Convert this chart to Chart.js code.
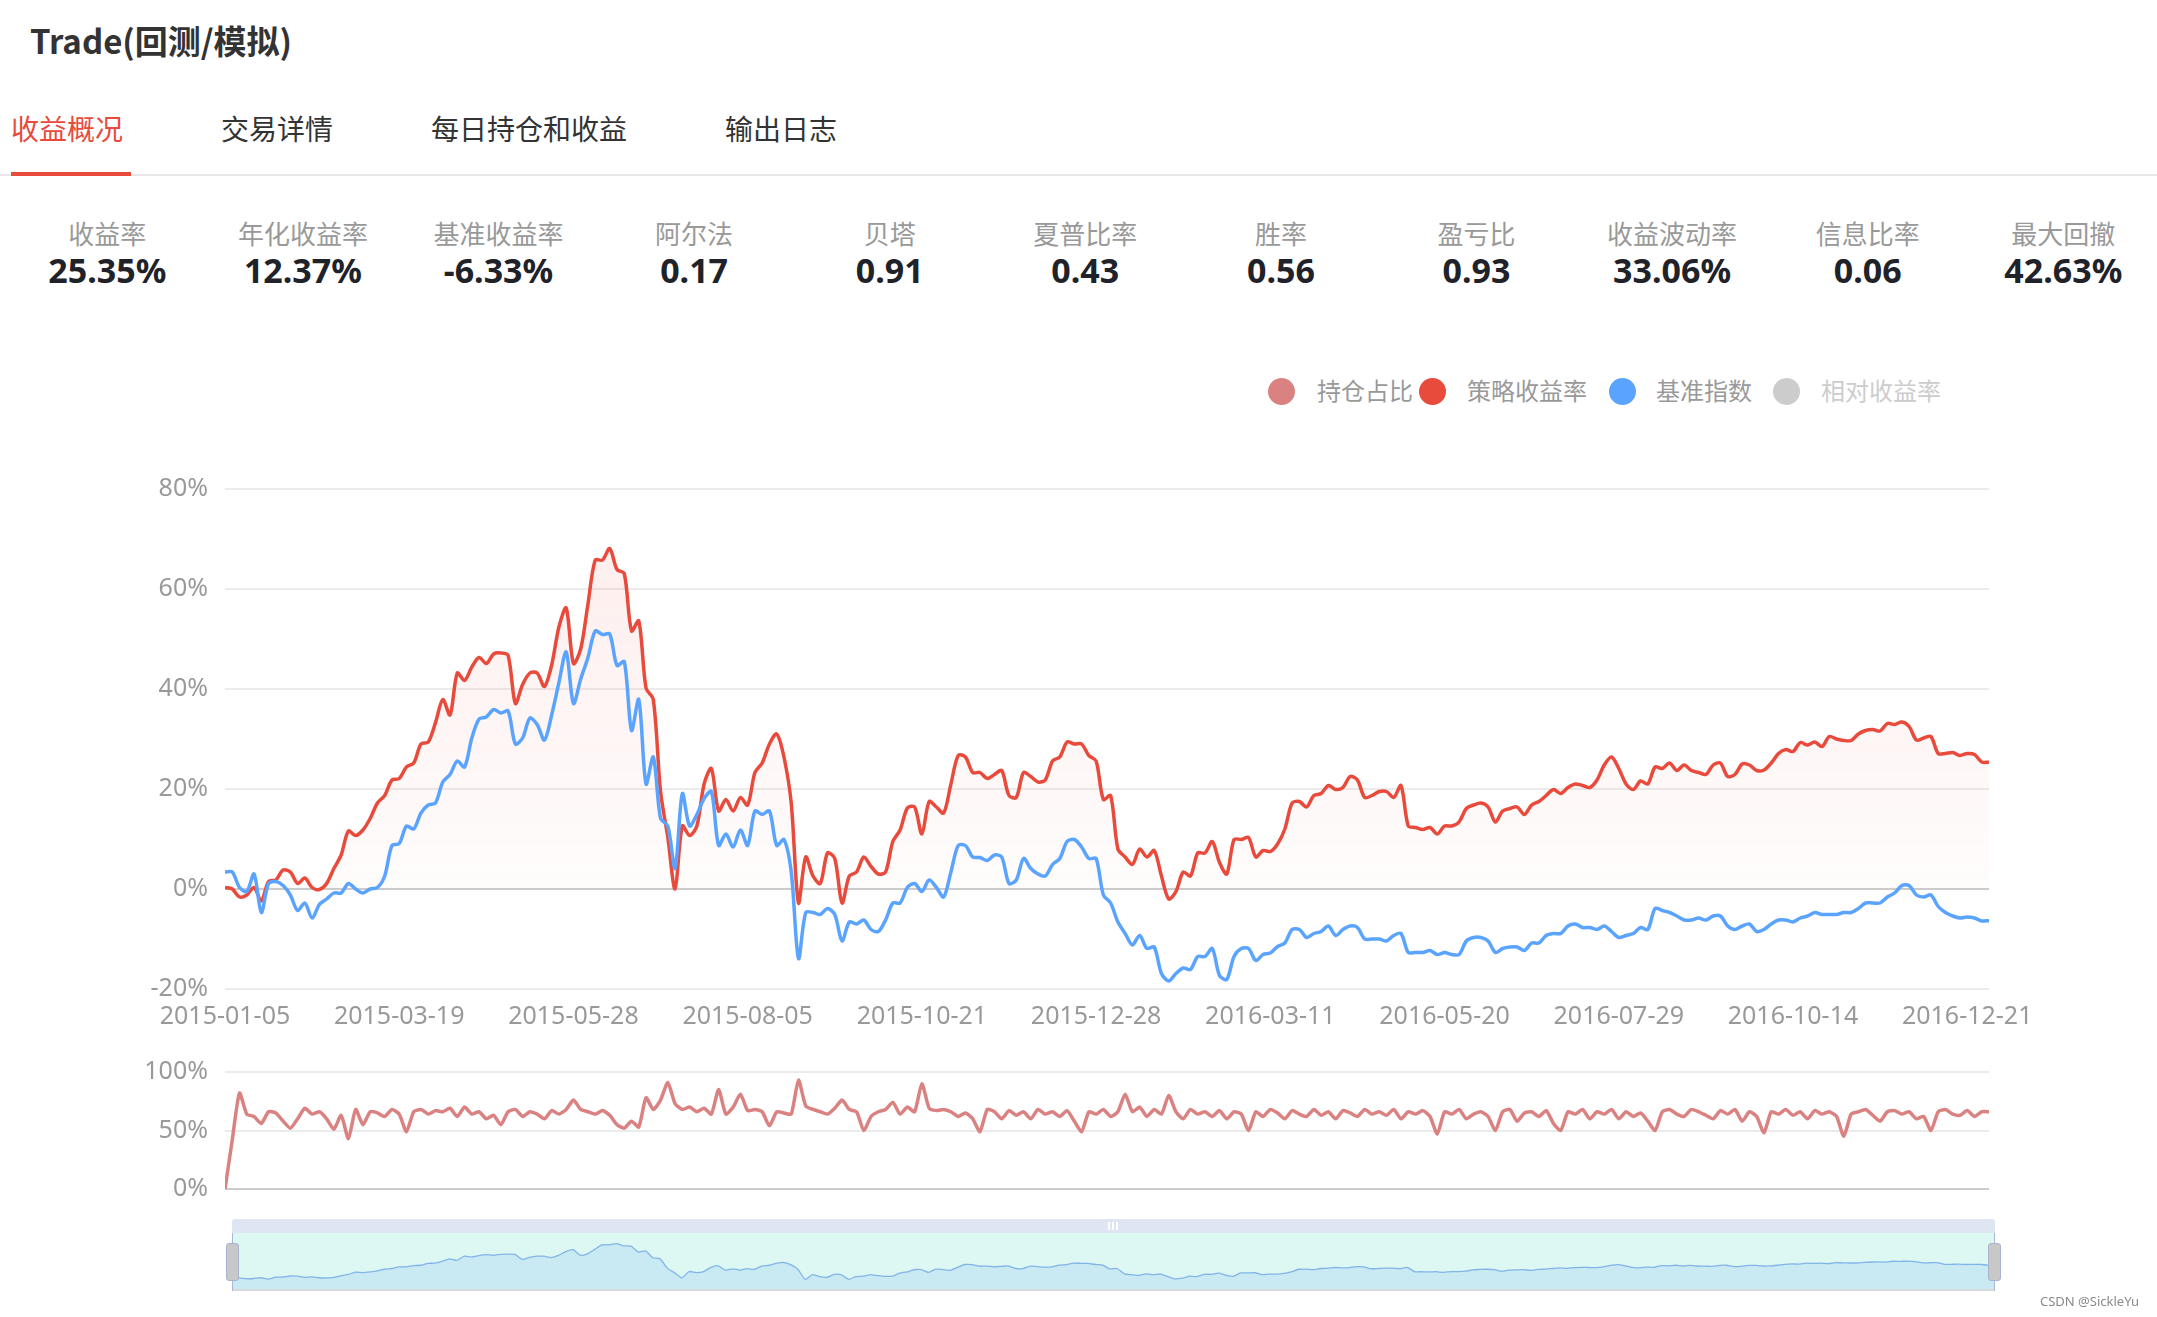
<!DOCTYPE html>
<html>
<head>
<meta charset="utf-8">
<script src="https://cdn.jsdelivr.net/npm/chart.js@4.4.1/dist/chart.umd.min.js"></script>
<style>
  html, body { margin: 0; padding: 0; background: #fff; }
  body { width: 2157px; height: 1317px; position: relative; overflow: hidden;
         font-family: "Noto Sans CJK SC", "Noto Sans", sans-serif; }
  .abs { position: absolute; white-space: nowrap; }
  #title { left: 30px; top: 23px; font-size: 33px; line-height: 34px; font-weight: 700; color: #333; }
  .tab { top: 113px; font-size: 28px; line-height: 30px; color: #333; }
  .tab.active { color: #e84a3c; }
  .stat { width: 196px; text-align: center; }
  .stat .lab { font-size: 26px; line-height: 30px; color: #999; }
  .stat .val { font-family: "Noto Sans", "Noto Sans CJK SC", sans-serif; font-size: 34px; line-height: 40px;
               font-weight: 700; color: #1f2329; margin-top: 2px; }
  .lg-dot { width: 27px; height: 27px; border-radius: 50%; }
  .lg-txt { font-size: 24px; line-height: 30px; color: #999; }
  canvas { position: absolute; }
</style>
</head>
<body>
<div id="title" class="abs">Trade(回测/模拟)</div>
<div id="tabs"></div>
<div class="abs" style="left:0;top:174px;width:2157px;height:2px;background:#e8e8e8"></div>
<div class="abs" style="left:11px;top:172px;width:120px;height:4px;background:#e84a3c"></div>
<div id="stats"></div>
<div id="legend"></div>

<canvas id="mainChart" width="2157" height="594" style="left:0;top:440px;width:2157px;height:594px"></canvas>
<canvas id="posChart" width="2157" height="181" style="left:0;top:1040px;width:2157px;height:181px"></canvas>

<div class="abs" style="left:232px;top:1219px;width:1763px;height:14px;background:#dfe5f3;border-radius:3px 3px 0 0"></div>
<div class="abs" style="left:1108px;top:1222px;width:2px;height:8px;background:#fff"></div>
<div class="abs" style="left:1112px;top:1222px;width:2px;height:8px;background:#fff"></div>
<div class="abs" style="left:1116px;top:1222px;width:2px;height:8px;background:#fff"></div>
<div class="abs" style="left:232px;top:1233px;width:1763px;height:57px;background:#ddf7f2"></div>
<canvas id="zoomChart" width="1763" height="57" style="left:232px;top:1233px;width:1763px;height:57px"></canvas>
<div class="abs" style="left:232px;top:1289px;width:1763px;height:2px;background:#d9d9d9"></div>
<div class="abs" style="left:232px;top:1233px;width:1px;height:58px;background:#a9b8d6"></div>
<div class="abs" style="left:1994px;top:1233px;width:1px;height:58px;background:#a9b8d6"></div>
<div class="abs" style="left:226px;top:1243px;width:11px;height:36px;background:#c8c8c8;border:1px solid #a9b4d0;border-radius:3px"></div>
<div class="abs" style="left:1988px;top:1243px;width:11px;height:36px;background:#c8c8c8;border:1px solid #a9b4d0;border-radius:3px"></div>
<div class="abs" style="left:2040px;top:1292px;font-size:13px;line-height:18px;color:#8a8a8a;font-family:'Noto Sans',sans-serif">CSDN @SickleYu</div>

<script>
// ---------------- data ----------------
const tabNames = ["收益概况", "交易详情", "每日持仓和收益", "输出日志"];
const statLabels = ["收益率", "年化收益率", "基准收益率", "阿尔法", "贝塔", "夏普比率", "胜率", "盈亏比", "收益波动率", "信息比率", "最大回撤"];
const statValues = ["25.35%", "12.37%", "-6.33%", "0.17", "0.91", "0.43", "0.56", "0.93", "33.06%", "0.06", "42.63%"];
const legendNames = ["持仓占比", "策略收益率", "基准指数", "相对收益率"];
const legendColors = ["#da8282", "#e84a3c", "#5aa4ff", "#cccccc"];

// x-axis tick labels (one every 24 samples; each sample = 2 trading days)
const tickLabels = ["2015-01-05", "2015-03-19", "2015-05-28", "2015-08-05", "2015-10-21", "2015-12-28",
                    "2016-03-11", "2016-05-20", "2016-07-29", "2016-10-14", "2016-12-21"];

// 策略收益率 (%)
const strategyReturn = [
  0.3, 0, -1.6, -1.2, 0.3, -2.4, 1.5, 1.8, 3.8, 3.4,
  1.1, 2.2, 0.3, -0.1, 1.1, 4.1, 6.8, 11.6, 10.7, 11.8,
  14.1, 17.2, 18.7, 21.8, 22.1, 24.4, 25.2, 29, 29.4, 33.3,
  37.9, 34.8, 43.2, 41.7, 44.4, 46.3, 45.1, 47, 47.2, 46.7,
  37.1, 40.9, 43.2, 43.2, 40.5, 44.8, 52.4, 56.2, 45.1, 48,
  57, 65.8, 65.8, 68.1, 63.9, 63.1, 51.6, 53.6, 40.2, 37.9,
  19.5, 10.3, 0, 12.6, 10.7, 12.6, 21, 24.1, 15.6, 17.9,
  15.6, 18.3, 16.8, 23.3, 25.2, 29, 31, 26.4, 17.2, -2.8,
  6.4, 2.6, 1.1, 7.2, 6.1, -2.8, 2.6, 3.4, 6.4, 4.5,
  3, 3.4, 9.5, 11.8, 16.2, 16.4, 11, 17.5, 16.4, 15.2,
  21, 26.7, 26.4, 23.3, 23.3, 22.1, 22.9, 23.7, 18.7, 18.3,
  23.3, 22.5, 21.4, 21.8, 25.6, 26.4, 29.4, 29, 29, 26.7,
  25.6, 17.9, 18.7, 8, 6.4, 4.9, 8, 6.4, 7.7, 2.6,
  -2, -0.5, 3.4, 2.6, 7.2, 7.2, 9.5, 5.3, 3, 9.9,
  9.9, 10.3, 6.4, 7.7, 7.5, 9, 12, 17.2, 17.5, 16.4,
  18.7, 19.1, 20.7, 19.9, 20.3, 22.5, 21.8, 18.3, 18.7, 19.5,
  19.5, 18.3, 20.7, 12.6, 12.3, 11.9, 12.3, 11, 12.6, 12.6,
  13.4, 16.1, 16.8, 17.2, 16.4, 13.4, 15.6, 16.1, 16.4, 14.9,
  16.8, 17.5, 18.7, 19.9, 19.1, 20.3, 21, 20.7, 20.3, 21.8,
  24.8, 26.4, 24.1, 21, 19.9, 21.6, 21, 24.4, 24.1, 25.2,
  23.7, 24.8, 23.7, 23.3, 22.9, 24.8, 25.2, 22.5, 22.9, 25,
  24.8, 23.7, 23.8, 25.2, 27.1, 27.9, 27.5, 29.3, 28.8, 29.4,
  28.5, 30.5, 30, 29.7, 29.7, 31, 31.7, 31.9, 31.6, 33.1,
  32.9, 33.4, 32.5, 29.8, 30.2, 30.5, 27.1, 27.1, 27.3, 26.7,
  27.1, 26.9, 25.4, 25.35
];

// 基准指数 (%)
const benchmarkReturn = [
  3.4, 3.4, 0.3, -0.5, 3, -4.7, 1.1, 1.5, 0.7, -1.2,
  -4.3, -2.8, -5.8, -3.1, -2, -0.8, -0.8, 1.1, 0, -0.8,
  0, 0.3, 2.6, 8.7, 9.1, 12.6, 12, 15.2, 16.8, 17.2,
  21.4, 22.9, 25.6, 24.4, 30.2, 34, 34.4, 35.9, 35.2, 35.6,
  29, 30.2, 34.2, 32.9, 29.8, 34.8, 41.3, 47.4, 37.1, 42,
  46.3, 51.6, 50.9, 51, 44.7, 45.5, 31.7, 37.9, 21, 26.4,
  14.1, 12.6, 4.1, 19.1, 12.6, 14.9, 18.1, 19.5, 8.7, 11,
  8.4, 11.8, 8.7, 15.6, 14.9, 15.6, 8.7, 9.9, 3.4, -13.9,
  -4.7, -4.7, -5.1, -3.9, -5.1, -10.4, -6.6, -7, -6.2, -8.1,
  -8.5, -6.2, -2.8, -2.8, 0.3, 1.1, -0.5, 1.8, 0.3, -1.6,
  3.4, 8.7, 8.7, 6.4, 6.3, 5.7, 6.8, 6.4, 1.1, 1.8,
  6.1, 4.1, 3, 2.6, 4.9, 6.1, 9.5, 9.9, 8.4, 6.1,
  6.1, -1.2, -2.8, -6.6, -8.9, -11.2, -9.3, -11.9, -11.6, -16.9,
  -18.4, -16.9, -15.8, -16.1, -13.5, -13.5, -11.9, -17.3, -18.1, -13.5,
  -11.9, -11.9, -14.3, -13.1, -12.8, -11.5, -10.8, -8.1, -8.1, -9.7,
  -8.9, -8.5, -7.4, -9.3, -8.1, -7.4, -7.7, -10, -10, -10,
  -10.4, -9.3, -8.9, -12.7, -12.7, -12.7, -12.3, -13.1, -12.7, -13.1,
  -13.1, -10.4, -9.7, -9.7, -10.4, -12.7, -11.9, -11.6, -11.6, -12.3,
  -10.8, -10.8, -9.3, -8.9, -8.9, -7.4, -7, -7.7, -7.7, -8.1,
  -7.4, -8.5, -9.7, -9.3, -8.9, -7.7, -8.1, -3.9, -4.3, -4.7,
  -5.4, -6.2, -6.2, -5.8, -6.2, -5.4, -5.4, -7.4, -8.1, -7.4,
  -7, -8.5, -8.1, -7, -6.2, -6.2, -6.6, -5.8, -5.4, -4.7,
  -5.1, -5.1, -5.1, -4.7, -4.7, -3.9, -2.8, -2.8, -2.8, -1.6,
  -0.8, 0.7, 0.7, -1.2, -1.6, -1.2, -3.5, -4.7, -5.4, -5.8,
  -5.6, -5.8, -6.4, -6.33
];

// 持仓占比 (%)
const positionRatio = [
  0, 42, 82, 64, 62, 56, 66, 65, 58, 52,
  60, 69, 64, 66, 60, 51, 63, 43, 68, 55,
  66, 65, 62, 68, 64, 49, 66, 68, 64, 67,
  66, 69, 62, 70, 64, 66, 60, 63, 55, 66,
  68, 62, 66, 64, 60, 67, 64, 68, 76, 68,
  66, 64, 67, 63, 55, 52, 58, 53, 78, 68,
  76, 91, 73, 68, 70, 66, 69, 64, 85, 64,
  70, 81, 67, 68, 66, 54, 66, 65, 64, 93,
  71, 68, 66, 64, 69, 76, 68, 66, 50, 62,
  66, 68, 74, 64, 70, 66, 90, 69, 67, 68,
  66, 62, 65, 60, 49, 68, 66, 60, 67, 63,
  66, 60, 68, 64, 66, 62, 67, 58, 49, 66,
  64, 68, 62, 66, 81, 66, 70, 62, 68, 64,
  80, 66, 60, 68, 64, 66, 62, 67, 60, 66,
  64, 50, 66, 62, 68, 65, 60, 67, 64, 62,
  68, 63, 66, 60, 67, 65, 62, 68, 64, 66,
  63, 68, 60, 66, 64, 67, 62, 47, 66, 64,
  68, 60, 64, 66, 62, 50, 66, 68, 58, 65,
  66, 62, 67, 56, 50, 66, 64, 68, 60, 66,
  64, 68, 60, 66, 62, 65, 58, 50, 66, 68,
  64, 62, 68, 66, 63, 60, 67, 64, 68, 58,
  66, 62, 48, 66, 64, 68, 63, 66, 60, 67,
  64, 66, 62, 45, 64, 66, 68, 63, 58, 66,
  67, 64, 66, 60, 62, 50, 66, 68, 64, 63,
  67, 62, 66, 66
];

// ---------------- header (HTML text) ----------------
const tabLefts = [11, 221, 431, 725];
document.getElementById('tabs').innerHTML = tabNames.map((t, k) =>
  `<div class="abs tab${k === 0 ? ' active' : ''}" style="left:${tabLefts[k]}px">${t}</div>`).join('');

document.getElementById('stats').innerHTML = statLabels.map((t, k) =>
  `<div class="abs stat" style="left:${(107.3 + 195.6 * k - 98).toFixed(1)}px;top:218px">
     <div class="lab">${t}</div><div class="val">${statValues[k]}</div></div>`).join('');

const dotX = [1281, 1432, 1622, 1786];
const txtX = [1317, 1467, 1656, 1821];
document.getElementById('legend').innerHTML = legendNames.map((t, k) =>
  `<div class="abs lg-dot" style="left:${dotX[k] - 13.5}px;top:${391 - 13.5}px;background:${legendColors[k]}"></div>
   <div class="abs lg-txt" style="left:${txtX[k]}px;top:375px;color:${k === 3 ? '#cccccc' : '#999'}">${t}</div>`).join('');

// ---------------- charts ----------------
const axisFont = { family: "'Noto Sans', sans-serif", size: 25 };
const toXY = arr => arr.map((v, i) => ({ x: i, y: v }));
const lastIdx = strategyReturn.length - 1;
const gridColor = ctx => (ctx.tick && ctx.tick.value === 0) ? '#cccccc' : '#ebebeb';

new Chart(document.getElementById('mainChart'), {
  type: 'line',
  data: {
    datasets: [
      { label: '基准指数', data: toXY(benchmarkReturn), borderColor: '#5aa4ff', borderWidth: 3.5,
        pointRadius: 0, tension: 0.3, fill: false },
      { label: '策略收益率', data: toXY(strategyReturn), borderColor: '#e84a3c', borderWidth: 3.5,
        pointRadius: 0, tension: 0.3, fill: 'origin',
        backgroundColor: (ctx) => {
          const chart = ctx.chart; const area = chart.chartArea;
          if (!area) return 'rgba(232,74,60,0.05)';
          const y0 = chart.scales.y.getPixelForValue(0);
          const g = chart.ctx.createLinearGradient(0, area.top, 0, y0);
          g.addColorStop(0, 'rgba(232,74,60,0.10)');
          g.addColorStop(1, 'rgba(232,74,60,0.015)');
          return g;
        } }
    ]
  },
  options: {
    responsive: false, animation: false, devicePixelRatio: 1,
    layout: { padding: { left: 0, right: 168, top: 49, bottom: 0 } },
    plugins: { legend: { display: false }, tooltip: { enabled: false } },
    scales: {
      x: {
        type: 'linear', min: 0, max: lastIdx,
        afterBuildTicks: s => { s.ticks = tickLabels.map((_, k) => ({ value: k * 24 })); },
        afterFit: s => { s.height = 45; },
        ticks: { callback: v => tickLabels[Math.round(v / 24)], color: '#999', font: axisFont,
                 maxRotation: 0, autoSkip: false, padding: 5 },
        grid: { display: false }, border: { display: false }
      },
      y: {
        min: -20, max: 80,
        afterFit: s => { s.width = 225; },
        ticks: { stepSize: 20, callback: v => v + '%', color: '#999', font: axisFont, padding: 17 },
        grid: { color: gridColor, lineWidth: 2, drawTicks: false }, border: { display: false }
      }
    }
  }
});

new Chart(document.getElementById('posChart'), {
  type: 'line',
  data: {
    datasets: [
      { label: '持仓占比', data: toXY(positionRatio), borderColor: '#da8282', borderWidth: 3.5,
        pointRadius: 0, tension: 0.2, fill: false }
    ]
  },
  options: {
    responsive: false, animation: false, devicePixelRatio: 1,
    layout: { padding: { left: 0, right: 168, top: 29, bottom: 19 } },
    plugins: { legend: { display: false }, tooltip: { enabled: false } },
    scales: {
      x: { type: 'linear', min: 0, max: lastIdx, display: false },
      y: {
        min: 0, max: 100,
        afterFit: s => { s.width = 225; },
        ticks: { stepSize: 50, callback: v => v + '%', color: '#999', font: axisFont, padding: 17 },
        grid: { color: gridColor, lineWidth: 2, drawTicks: false }, border: { display: false }
      }
    }
  }
});

const sMin = Math.min(...strategyReturn), sMax = Math.max(...strategyReturn);
const sPad = (sMax - sMin) * 0.3;
new Chart(document.getElementById('zoomChart'), {
  type: 'line',
  data: {
    datasets: [
      { data: toXY(strategyReturn), borderColor: 'rgba(110,165,230,0.8)', borderWidth: 1.3,
        pointRadius: 0, tension: 0.2, fill: 'start', backgroundColor: '#c9eaf2' }
    ]
  },
  options: {
    responsive: false, animation: false, devicePixelRatio: 1,
    layout: { padding: 0 },
    plugins: { legend: { display: false }, tooltip: { enabled: false } },
    scales: {
      x: { type: 'linear', min: 0, max: lastIdx, display: false },
      y: { min: sMin - sPad, max: sMax + sPad, display: false }
    }
  }
});
</script>
</body>
</html>
